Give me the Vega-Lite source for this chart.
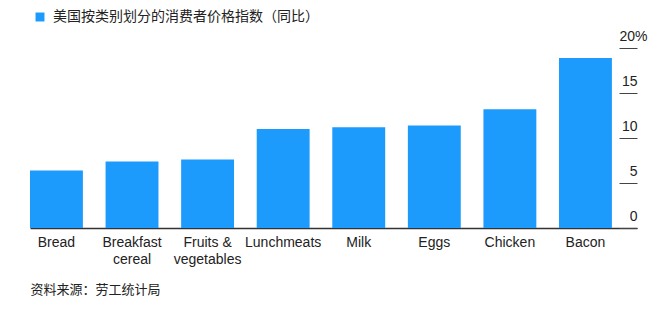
{
  "$schema": "https://vega.github.io/schema/vega-lite/v6.json",
  "autosize": "none",
  "width": 607,
  "height": 180,
  "padding": {"left": 30, "top": 48, "right": 24, "bottom": 90},
  "background": "white",
  "config": {
    "font": "Liberation Sans, Noto Sans CJK SC",
    "view": {"stroke": null}
  },
  "data": {
    "values": [
      {"item": "Bread", "v": 6.4},
      {"item": "Breakfast\ncereal", "v": 7.4},
      {"item": "Fruits &\nvegetables", "v": 7.6},
      {"item": "Lunchmeats", "v": 11.0},
      {"item": "Milk", "v": 11.2},
      {"item": "Eggs", "v": 11.4},
      {"item": "Chicken", "v": 13.2},
      {"item": "Bacon", "v": 18.9}
    ]
  },
  "mark": {"type": "bar"},
  "encoding": {
    "x": {
      "field": "item",
      "type": "nominal",
      "sort": null,
      "scale": {"paddingInner": 0.3, "paddingOuter": 0.166, "align": 0},
      "axis": {
        "title": "资料来源：劳工统计局",
        "titleFontSize": 13,
        "titleFontWeight": "normal",
        "titleColor": "#222",
        "titleAnchor": "start",
        "titleAlign": "left",
        "titleBaseline": "middle",
        "titleX": 0,
        "titleY": 61,
        "labelAngle": 0,
        "labelExpr": "split(datum.label, '\\n')",
        "labelFontSize": 14,
        "labelColor": "#222",
        "labelLineHeight": 17,
        "labelPadding": 7,
        "labelBaseline": "top",
        "ticks": false,
        "domain": true,
        "domainColor": "#333",
        "domainWidth": 1.5
      }
    },
    "y": {
      "field": "v",
      "type": "quantitative",
      "scale": {"domain": [0, 20], "nice": false},
      "axis": {
        "orient": "right",
        "title": null,
        "values": [0, 5, 10, 15, 20],
        "offset": -18,
        "tickSize": 18,
        "tickColor": "#444",
        "domain": false,
        "grid": false,
        "labelExpr": "datum.value == 20 ? '20%' : datum.label",
        "labelAlign": {"condition": {"test": "datum.value == 20", "value": "left"}, "value": "right"},
        "labelPadding": {"condition": {"test": "datum.value == 20", "value": -18}, "value": 0},
        "labelBaseline": "alphabetic",
        "labelOffset": -8,
        "labelFontSize": 14,
        "labelColor": "#222"
      }
    },
    "color": {
      "datum": "美国按类别划分的消费者价格指数（同比）",
      "scale": {"range": ["#1d9bfd"]},
      "legend": {
        "title": null,
        "orient": "none",
        "legendX": 3,
        "legendY": -38,
        "padding": 0,
        "symbolType": "square",
        "symbolSize": 80,
        "symbolStrokeWidth": 0,
        "labelFontSize": 14,
        "labelLimit": 600,
        "labelColor": "#222",
        "labelOffset": 6
      }
    }
  }
}
